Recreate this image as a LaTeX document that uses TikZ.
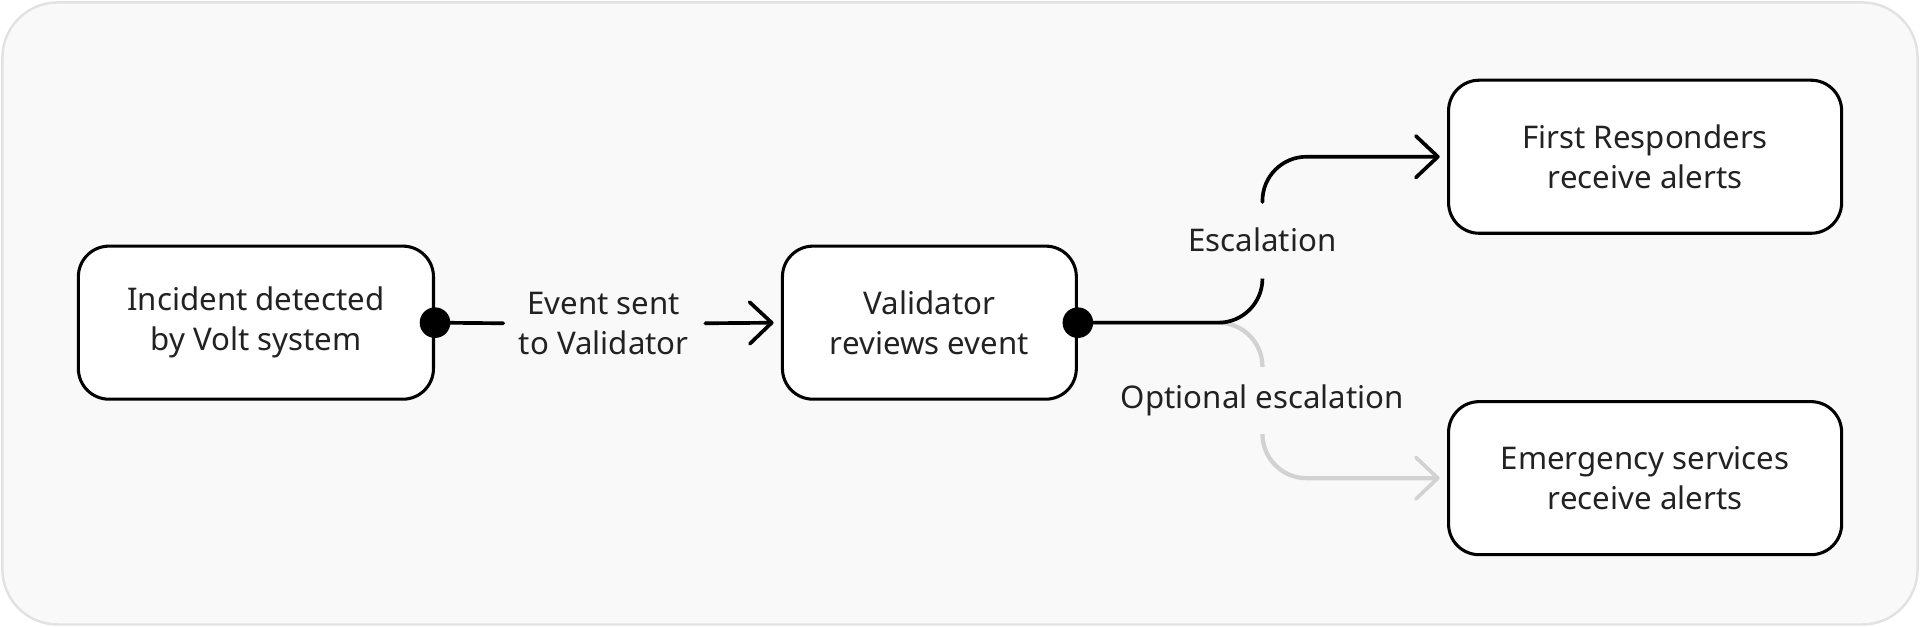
\documentclass[tikz,border=0pt]{standalone}
\usepackage{fontspec}
\setmainfont{Noto Sans}
\usetikzlibrary{arrows.meta}
\definecolor{bgc}{HTML}{F9F9F9}
\definecolor{bdc}{HTML}{E2E2E2}
\definecolor{txt}{HTML}{222222}
\begin{document}
\begin{tikzpicture}[x=1pt,y=-1pt,
  box/.style={draw=black,line width=2.5pt,fill=white,rounded corners=25pt,minimum width=#1,minimum height=125pt,align=center,font=\fontsize{25.5}{33}\selectfont,text=txt,inner sep=0pt},
  lbl/.style={align=center,font=\fontsize{25.5}{33}\selectfont,text=txt,inner sep=2pt},
  con/.style={line width=3pt,line cap=round,rounded corners=36pt},
  arr/.style={-{Straight Barb[length=18pt,width=34pt,line width=3pt,line cap=round,round]},shorten >=6pt},
  gcon/.style={con,draw=gray!35,line width=3.5pt},
  dot/.style={circle,fill=black,minimum size=25pt,inner sep=0pt}]
\useasboundingbox (0,0) rectangle (1568,512);
\draw[fill=bgc,draw=bdc,line width=2pt,rounded corners=45pt] (2,2) rectangle (1566,510);
\node[box=290pt] (a) at (209,263.5) {Incident detected\\by Volt system};
\node[box=240pt] (b) at (759,263.5) {Validator\\reviews event};
\node[box=321pt] (c) at (1343.5,128) {First Responders\\receive alerts};
\node[box=321pt] (d) at (1343.5,390.5) {Emergency services\\receive alerts};
\node[lbl] (l1) at (493,264) {Event sent\\to Validator};
\node[lbl] (l2) at (1031,196) {Escalation};
\node[lbl] (l3) at (1031,327) {Optional escalation};
\coordinate (p1) at (411,264);
\coordinate (p2) at (576,264);
\coordinate (u1) at (1031,228);
\coordinate (u2) at (1031,165);
\coordinate (g1) at (1031,298);
\coordinate (g2) at (1031,357);
\draw[gcon] (b.east) -| (g1);
\draw[gcon,arr] (g2) |- (d.west);
\draw[con] (a.east) -- (p1);
\draw[con,arr] (p2) -- (b.west);
\draw[con] (b.east) -| (u1);
\draw[con,arr] (u2) |- (c.west);
\node[dot] (da) at (a.east) {};
\node[dot] (db) at (b.east) {};
\end{tikzpicture}
\end{document}
